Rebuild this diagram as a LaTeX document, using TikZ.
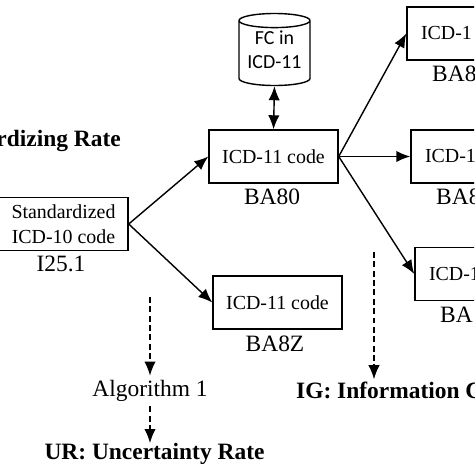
\documentclass[tikz,border=0pt]{standalone}
\usepackage{fontspec}
\setmainfont{Liberation Serif}
\newfontfamily\cylfont{Carlito}
\usetikzlibrary{arrows.meta, shapes.geometric}
\tikzset{codebox/.style = {shape = rectangle, draw, line width = 1.2pt, inner sep = 0pt, minimum width = 3.87cm, minimum height = 1.59cm, font = \fontsize{17pt}{21pt}\selectfont, align = center}}
\tikzset{cutbox/.style = {codebox, text width = 3.03cm, align = left}}
\tikzset{codelabel/.style = {inner sep = 0pt, font = \fontsize{20pt}{22pt}\selectfont}}
\tikzset{metric/.style = {inner sep = 0pt, font = \fontsize{20pt}{22pt}\selectfont\bfseries}}
\tikzset{store/.style = {shape = cylinder, draw, line width = 1.2pt, shape border rotate = 90, aspect = 0.26, inner sep = 0pt, minimum width = 2.13cm, minimum height = 2.16cm, anchor = shape center, align = center, font = \fontsize{17pt}{20.5pt}\selectfont\cylfont}}
\tikzset{storetext/.style = {inner sep = 0pt, align = center, font = \fontsize{17pt}{20.5pt}\selectfont\cylfont}}
\tikzset{edge/.style = {line width = 1.2pt, -{Latex[length = 4.2mm, width = 3.4mm]}}}
\tikzset{twoway/.style = {line width = 1.2pt, {Latex[length = 4.2mm, width = 3.4mm]}-{Latex[length = 4.2mm, width = 3.4mm]}}}
\tikzset{dashedge/.style = {edge, dash pattern = on 5pt off 3pt}}

\begin{document}
\begin{tikzpicture}[x = 0.03cm, y = -0.03cm]
	\path[use as bounding box, clip] (0, 0) rectangle (474, 474);

	\node[codebox] (std) at (63.5, 224) {Standardized\\ICD-10 code};
	\node[codebox] (ba80) at (273.5, 156.5) {ICD-11 code};
	\node[codebox] (ba8z) at (277.5, 302.5) {ICD-11 code};
	\node[cutbox] (top) at (471.5, 33.5) {ICD-1};
	\node[cutbox] (mid) at (475.5, 156.5) {ICD-1};
	\node[cutbox] (bot) at (479.5, 274) {ICD-1};
	\node[store] (fc) at (274.5, 49.5) {\phantom{ICD-11}\\\phantom{ICD-11}};
	\node[storetext] (fctext) at (274.5, 50) {FC in\\ICD-11};

	\node[codelabel] (i251) at (61, 264) {I25.1};
	\node[codelabel] (lba80) at (272, 197) {BA80};
	\node[codelabel] (lba8z) at (275, 344) {BA8Z};
	\node[codelabel, anchor = west] (ltop) at (432, 74) {BA8};
	\node[codelabel, anchor = west] (lmid) at (436, 197) {BA8};
	\node[codelabel, anchor = west] (lbot) at (440, 315) {BA};

	\node[metric, anchor = east] (sr) at (121, 141) {rdizing Rate};
	\node[codelabel, outer ysep = 4pt] (algo) at (150, 391) {Algorithm 1};
	\node[metric] (ur) at (154.5, 454) {UR: Uncertainty Rate};
	\node[metric, anchor = west, outer ysep = 2pt] (ig) at (296, 390) {IG: Information C};

	\coordinate (urstart) at (150, 297);
	\coordinate (igstart) at (374, 252);

	\draw[edge] (std.east) to (ba80.west);
	\draw[edge] (std.east) to (ba8z.west);
	\draw[edge] (ba80.east) to (top.west);
	\draw[edge] (ba80.east) to (mid.west);
	\draw[edge] (ba80.east) to (bot.west);
	\draw[twoway] (fc.south) to (ba80.north);
	\draw[dashedge] (urstart) to (algo.north);
	\draw[dashedge] (algo.south) to (ur.north -| algo.south);
	\draw[dashedge] (igstart) to (ig.north -| igstart);
\end{tikzpicture}
\end{document}
